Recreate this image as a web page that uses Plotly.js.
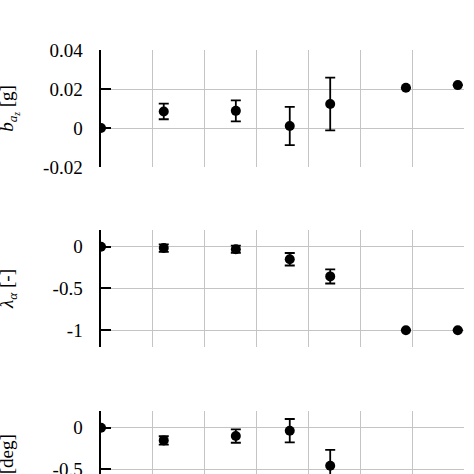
<!DOCTYPE html>
<html>
<head>
<meta charset="utf-8">
<script src="https://cdn.plot.ly/plotly-3.0.1.min.js"></script>
<style>
html, body { margin: 0; padding: 0; overflow: hidden; background: #fff; }
#chart { width: 478px; height: 600px; margin-left: -4px; }
</style>
</head>
<body>
<div id="chart"></div>
<script>
// Data
const xPos = [0, 1.21, 2.6, 3.64, 4.42, 5.88, 6.88];

const bias = [0, 0.0085, 0.0088, 0.001, 0.0123, 0.0206, 0.022];
const biasErr = [0, 0.004, 0.0054, 0.0098, 0.0135, 0, 0];

const lambda = [0, -0.016, -0.03, -0.15, -0.355, -1, -1];
const lambdaErr = [0, 0.045, 0.042, 0.075, 0.085, 0, 0];

const angle = [0, -0.152, -0.1, -0.036, -0.456, -1, -1];
const angleErr = [0, 0.05, 0.08, 0.14, 0.19, 0, 0];

const biasTickVals = [-0.02, 0, 0.02, 0.04];
const biasTickText = ["-0.02", "0", "0.02", "0.04"];
const lamTickVals = [-1, -0.5, 0];
const lamTickText = ["-1", "-0.5", "0"];
const angTickVals = [-1, -0.5, 0];
const angTickText = ["-1", "-0.5", "0"];

const xGridVals = [0, 1, 2, 3, 4, 5, 6, 7];

const font = "'Liberation Serif', 'Times New Roman', serif";

function markers(y, xa, ya) {
  return {
    x: xPos, y: y, xaxis: xa, yaxis: ya,
    type: 'scatter', mode: 'markers',
    marker: { color: '#000', size: 10 },
    showlegend: false, hoverinfo: 'none'
  };
}
function errors(y, err, xa, ya) {
  return {
    x: xPos, y: y, xaxis: xa, yaxis: ya,
    type: 'scatter', mode: 'markers',
    marker: { color: 'rgba(0,0,0,0)', size: 1 },
    error_y: { type: 'data', array: err, visible: true, color: '#000', thickness: 1.8, width: 5 },
    showlegend: false, hoverinfo: 'none'
  };
}

const data = [
  markers(bias, 'x', 'y'), errors(bias, biasErr, 'x', 'y'),
  markers(lambda, 'x2', 'y2'), errors(lambda, lambdaErr, 'x2', 'y2'),
  markers(angle, 'x3', 'y3'), errors(angle, angleErr, 'x3', 'y3')
];

function xAxis(anchor) {
  return {
    anchor: anchor, range: [0, 7], tickvals: xGridVals,
    showticklabels: false, ticks: '', showgrid: true, gridcolor: '#c4c4c4', gridwidth: 1,
    zeroline: false, showline: false, fixedrange: true
  };
}
function yAxis(anchor, domain, range, tv, tt, title, standoff) {
  return {
    anchor: anchor, domain: domain, range: range,
    tickvals: tv, ticktext: tt,
    ticks: 'inside', ticklen: 10, tickwidth: 2, tickcolor: '#000',
    showline: true, linecolor: '#000', linewidth: 2.5,
    showgrid: true, gridcolor: '#c4c4c4', gridwidth: 1, zeroline: false,
    tickfont: { family: font, size: 19, color: '#000' },
    ticklabelstandoff: 12,
    title: { text: title, font: { family: font, size: 19, color: '#000' }, standoff: standoff },
    fixedrange: true
  };
}

const layout = {
  width: 478, height: 600,
  margin: { l: 105, r: 10, t: 50, b: 72 },
  paper_bgcolor: '#fff', plot_bgcolor: '#fff',
  xaxis: xAxis('y'),
  xaxis2: xAxis('y2'),
  xaxis3: xAxis('y3'),
  yaxis: yAxis('x', [0.7552, 1], [-0.02, 0.04], biasTickVals, biasTickText,
    '<i>b<sub>a<sub>z</sub></sub></i> [g]', 40),
  yaxis2: yAxis('x2', [0.3787, 0.6234], [-1.2, 0.2], lamTickVals, lamTickText,
    '<i>λ</i><sub><i>α</i></sub> [-]', 50),
  yaxis3: yAxis('x3', [0, 0.2448], [-1.2, 0.2], angTickVals, angTickText,
    '<i>θ</i><sub><i>err</i></sub> [deg]', 50)
};

Plotly.newPlot('chart', data, layout, { displayModeBar: false, staticPlot: true });
</script>
</body>
</html>
